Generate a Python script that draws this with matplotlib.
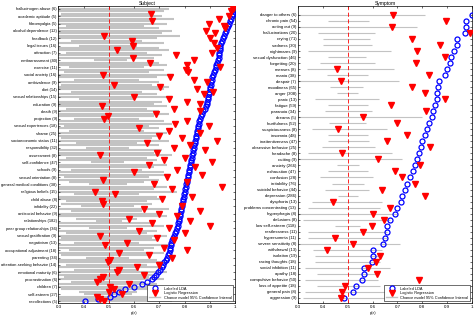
import matplotlib
matplotlib.use('Agg')
import matplotlib.pyplot as plt
from matplotlib.lines import Line2D
import numpy as np

plt.rcParams['font.family'] = ['Liberation Sans', 'DejaVu Sans']

# ---- left panel: subjects (one label every third row) ----
subject_labels = [
    'hallucinogen abuse (6)', 'academic aptitude (5)', 'fibromyalgia (5)',
    'alcohol dependence (12)', 'feedback (12)', 'legal issues (16)',
    'attraction (7)', 'embarrassment (40)', 'exercise (11)',
    'social anxiety (16)', 'ambivalence (9)', 'diet (14)',
    'sexual relationships (15)', 'education (9)', 'death (9)',
    'projection (9)', 'sexual experiences (18)', 'shame (25)',
    'socioeconomic status (11)', 'responsibility (32)', 'assessment (8)',
    'self-confidence (47)', 'schools (9)', 'sexual orientation (8)',
    'general medical conditions (38)', 'religious beliefs (15)',
    'child abuse (8)', 'infidelity (22)', 'antisocial behavior (9)',
    'relationships (182)', 'peer group relationships (36)',
    'sexual gratification (9)', 'negativism (13)',
    'occupational adjustment (18)', 'parenting (34)',
    'attention-seeking behavior (14)', 'emotional maturity (6)',
    'procrastination (6)', 'children (7)', 'self-esteem (27)',
    'recollections (5)',
]

subject_lda = [
    1.000, 0.997, 0.994, 0.990, 0.986, 0.981, 0.977, 0.974, 0.969, 0.964,
    0.960, 0.957, 0.951, 0.948, 0.944, 0.941, 0.940, 0.939, 0.938, 0.936,
    0.935, 0.933, 0.929, 0.926, 0.924, 0.919, 0.917, 0.913, 0.910, 0.908,
    0.905, 0.903, 0.902, 0.899, 0.897, 0.895, 0.894, 0.891, 0.889, 0.887,
    0.884, 0.880, 0.873, 0.868, 0.864, 0.860, 0.858, 0.857, 0.854, 0.852,
    0.850, 0.849, 0.846, 0.844, 0.843, 0.840, 0.838, 0.837, 0.834, 0.832,
    0.830, 0.829, 0.826, 0.824, 0.823, 0.820, 0.818, 0.817, 0.814, 0.812,
    0.810, 0.809, 0.806, 0.804, 0.803, 0.800, 0.798, 0.797, 0.794, 0.792,
    0.790, 0.789, 0.786, 0.784, 0.782, 0.780, 0.779, 0.776, 0.774, 0.772,
    0.770, 0.767, 0.762, 0.758, 0.755, 0.750, 0.748, 0.747, 0.744, 0.742,
    0.740, 0.736, 0.730, 0.726, 0.720, 0.715, 0.710, 0.702, 0.696, 0.688,
    0.680, 0.669, 0.652, 0.631, 0.600, 0.562, 0.541, 0.521, 0.505, 0.458,
    0.405,
]

subject_lr = [
    0.993, 0.985, 0.667, 0.975, 0.936, 0.671, 0.896, 0.955, 0.962, 0.883,
    0.922, 0.481, 0.902, 0.591, 0.918, 0.595, 0.929, 0.531, 0.909, 0.767,
    0.595, 0.836, 0.664, 0.810, 0.942, 0.807, 0.812, 0.478, 0.743, 0.836,
    0.889, 0.521, 0.701, 0.849, 0.913, 0.876, 0.598, 0.737, 0.810, 0.863,
    0.472, 0.757, 0.863, 0.688, 0.498, 0.481, 0.810, 0.763, 0.896, 0.620,
    0.740, 0.860, 0.700, 0.790, 0.930, 0.650, 0.820, 0.760, 0.880, 0.690,
    0.465, 0.800, 0.720, 0.910, 0.660, 0.840, 0.770, 0.600, 0.870, 0.730,
    0.478, 0.810, 0.680, 0.950, 0.750, 0.445, 0.525, 0.830, 0.710, 0.472,
    0.478, 0.790, 0.640, 0.860, 0.700, 0.770, 0.580, 0.820, 0.670, 0.900,
    0.740, 0.620, 0.800, 0.465, 0.690, 0.760, 0.570, 0.485, 0.720, 0.810,
    0.538, 0.660, 0.750, 0.505, 0.498, 0.700, 0.610, 0.538, 0.531, 0.640,
    0.476, 0.465, 0.454, 0.580, 0.505, 0.520, 0.500, 0.550, 0.454, 0.465,
    0.480,
]

subject_ci_low = [
    0.22, 0.24, 0.31, 0.26, 0.23, 0.30, 0.25, 0.33, 0.28, 0.24,
    0.27, 0.21, 0.29, 0.35, 0.26, 0.38, 0.28, 0.25, 0.33, 0.27,
    0.30, 0.44, 0.29, 0.26, 0.34, 0.27, 0.32, 0.23, 0.29, 0.36,
    0.28, 0.31, 0.25, 0.27, 0.35, 0.29, 0.24, 0.38, 0.27, 0.30,
    0.26, 0.33, 0.28, 0.25, 0.30, 0.36, 0.27, 0.24, 0.32, 0.28,
    0.34, 0.26, 0.29, 0.31, 0.25, 0.37, 0.28, 0.41, 0.27, 0.30,
    0.24, 0.33, 0.29, 0.43, 0.26, 0.30, 0.35, 0.27, 0.25, 0.32,
    0.28, 0.34, 0.42, 0.26, 0.30, 0.23, 0.36, 0.29, 0.27, 0.33,
    0.31, 0.39, 0.25, 0.35, 0.28, 0.26, 0.37, 0.45, 0.30, 0.27,
    0.42, 0.29, 0.33, 0.26, 0.31, 0.28, 0.36, 0.24, 0.30, 0.34,
    0.27, 0.31, 0.41, 0.29, 0.25, 0.33, 0.28, 0.36, 0.26, 0.30,
    0.32, 0.27, 0.35, 0.29, 0.24, 0.31, 0.38, 0.40, 0.26, 0.30,
    0.24,
]

subject_ci_high = [
    0.74, 0.72, 0.66, 0.71, 0.76, 0.68, 0.73, 0.64, 0.70, 0.75,
    0.71, 0.78, 0.69, 0.63, 0.72, 0.61, 0.70, 0.74, 0.65, 0.71,
    0.68, 0.57, 0.70, 0.73, 0.64, 0.72, 0.66, 0.76, 0.69, 0.62,
    0.70, 0.67, 0.74, 0.72, 0.63, 0.69, 0.75, 0.60, 0.71, 0.68,
    0.73, 0.65, 0.70, 0.74, 0.68, 0.62, 0.72, 0.75, 0.66, 0.70,
    0.64, 0.73, 0.69, 0.67, 0.74, 0.61, 0.70, 0.58, 0.71, 0.68,
    0.75, 0.65, 0.69, 0.56, 0.73, 0.68, 0.63, 0.72, 0.74, 0.66,
    0.70, 0.64, 0.57, 0.73, 0.68, 0.77, 0.62, 0.69, 0.72, 0.65,
    0.67, 0.60, 0.74, 0.63, 0.70, 0.73, 0.61, 0.55, 0.68, 0.72,
    0.57, 0.69, 0.65, 0.73, 0.67, 0.70, 0.62, 0.75, 0.68, 0.64,
    0.72, 0.67, 0.58, 0.69, 0.74, 0.65, 0.70, 0.62, 0.73, 0.68,
    0.66, 0.72, 0.63, 0.69, 0.75, 0.67, 0.61, 0.59, 0.73, 0.68,
    0.75,
]

# ---- right panel: symptoms (one label per row) ----
symptom_labels = [
    'danger to others (6)', 'chronic pain (54)', 'acting out (9)',
    'hallucinations (20)', 'crying (71)', 'sadness (30)', 'nightmares (9)',
    'sexual dysfunction (46)', 'forgetting (20)', 'menses (8)',
    'mania (38)', 'despair (7)', 'moodiness (65)', 'anger (308)',
    'panic (13)', 'fatigue (59)', 'paranoia (34)', 'dreams (5)',
    'hurtfulness (52)', 'suspiciousness (8)', 'insomnia (48)',
    'inattentiveness (47)', 'obsessive behavior (25)', 'headache (8)',
    'cutting (9)', 'anxiety (266)', 'exhaustion (47)', 'confusion (28)',
    'irritability (76)', 'suicidal behavior (44)', 'depression (286)',
    'dysphoria (13)', 'problems concentrating (13)', 'hyperphagia (8)',
    'delusions (8)', 'low self-esteem (118)', 'restlessness (11)',
    'hypersomnia (11)', 'severe sensitivity (8)', 'withdrawal (13)',
    'isolation (19)', 'racing thoughts (18)', 'social inhibition (11)',
    'apathy (18)', 'compulsive behavior (50)', 'loss of appetite (18)',
    'general pain (8)', 'aggression (9)',
]

symptom_lda = [
    1.000, 0.976, 0.976, 0.972, 0.940, 0.940, 0.928, 0.915, 0.911, 0.899,
    0.891, 0.867, 0.863, 0.859, 0.859, 0.851, 0.843, 0.839, 0.827, 0.820,
    0.812, 0.800, 0.795, 0.787, 0.780, 0.770, 0.762, 0.750, 0.740, 0.730,
    0.720, 0.713, 0.697, 0.692, 0.670, 0.659, 0.659, 0.650, 0.641, 0.603,
    0.600, 0.598, 0.566, 0.566, 0.556, 0.533, 0.523, 0.485,
]

symptom_lr = [
    0.683, 0.895, 0.677, 0.992, 0.757, 0.871, 0.780, 0.891, 0.773, 0.456,
    0.828, 0.472, 0.757, 0.811, 0.891, 0.673, 0.815, 0.563, 0.700, 0.462,
    0.740, 0.660, 0.830, 0.476, 0.620, 0.790, 0.690, 0.720, 0.770, 0.640,
    0.810, 0.440, 0.670, 0.600, 0.646, 0.596, 0.563, 0.449, 0.523, 0.418,
    0.630, 0.614, 0.583, 0.617, 0.788, 0.489, 0.476, 0.472,
]

symptom_ci_low = [
    0.19, 0.42, 0.22, 0.38, 0.40, 0.40, 0.34, 0.42, 0.39, 0.336,
    0.415, 0.29, 0.43, 0.456, 0.37, 0.42, 0.41, 0.20, 0.425, 0.357,
    0.42, 0.42, 0.395, 0.34, 0.25, 0.455, 0.42, 0.39, 0.436, 0.41,
    0.46, 0.357, 0.34, 0.28, 0.32, 0.45, 0.34, 0.34, 0.31, 0.36,
    0.37, 0.37, 0.33, 0.375, 0.33, 0.375, 0.33, 0.32,
]

symptom_ci_high = [
    0.81, 0.585, 0.78, 0.61, 0.59, 0.597, 0.674, 0.573, 0.61, 0.686,
    0.58, 0.706, 0.56, 0.54, 0.627, 0.58, 0.597, 0.80, 0.575, 0.66,
    0.58, 0.585, 0.61, 0.68, 0.72, 0.545, 0.58, 0.60, 0.565, 0.585,
    0.54, 0.64, 0.63, 0.70, 0.67, 0.55, 0.66, 0.66, 0.71, 0.64,
    0.62, 0.63, 0.67, 0.62, 0.62, 0.63, 0.68, 0.69,
]

x_ticks = [0.3, 0.4, 0.5, 0.6, 0.7, 0.8, 0.9, 1.0]
x_tick_labels = ['0.3', '0.4', '0.5', '0.6', '0.7', '0.8', '0.9', '1']

FS = 3.2


def draw_panel(ax, title, labels, label_every, lda, lr, lo, hi, bar_lw, ylim, label_fs):
    rows = np.arange(len(lda))
    ax.hlines(rows, lo, hi, color='#c3c3c3', lw=bar_lw, zorder=1)
    ax.axvline(0.5, color='red', lw=0.6, ls=(0, (5, 3)), zorder=2)
    ax.plot(lda, rows, ls='none', marker='o', ms=3.6, mfc='none',
            mec='blue', mew=0.9, zorder=3)
    ax.plot(lr, rows, ls='none', marker='v', ms=4.0, color='red',
            mec='red', zorder=4)

    ax.set_xlim(0.3, 1.0)
    ax.set_ylim(*ylim)
    ax.set_xticks(x_ticks)
    ax.set_xticklabels(x_tick_labels)
    ax.set_yticks(rows[::label_every])
    ax.set_yticklabels(labels)
    ax.tick_params(direction='in', length=1.5, width=0.4, labelsize=FS,
                   pad=1.5, top=True, right=True)
    ax.tick_params(axis='y', labelsize=label_fs, pad=1.2)
    for s in ax.spines.values():
        s.set_linewidth(0.5)
    ax.set_title(title, fontsize=3.6, pad=0.6)
    ax.set_xlabel('p(ε)', fontsize=2.8, labelpad=0)
    ax.xaxis.set_label_coords(0.43, -0.026)

    handles = [
        Line2D([], [], ls='none', marker='o', ms=3.6, mfc='none', mec='blue', mew=0.9),
        Line2D([], [], ls='none', marker='v', ms=4.0, color='red'),
        Line2D([], [], color='#c3c3c3', lw=1),
    ]
    leg = ax.legend(handles, ['Labeled LDA', 'Logistic Regression',
                              'Chance model 95% Confidence Interval'],
                    loc='lower right', fontsize=2.8, frameon=True, fancybox=False,
                    borderpad=0.4, labelspacing=0.15, handlelength=3,
                    borderaxespad=0.5, framealpha=1)
    leg.get_frame().set_edgecolor('black')
    leg.get_frame().set_linewidth(0.4)


fig = plt.figure(figsize=(4.74, 3.15), dpi=100)
ax1 = fig.add_axes([0.1234, 0.037, 0.3724, 0.943])
ax2 = fig.add_axes([0.6287, 0.037, 0.367, 0.943])

draw_panel(ax1, 'Subject', subject_labels, 3, subject_lda, subject_lr,
           subject_ci_low, subject_ci_high, 1.5, (120.8, -1.1), 2.9)
draw_panel(ax2, 'Symptom', symptom_labels, 1, symptom_lda, symptom_lr,
           symptom_ci_low, symptom_ci_high, 0.8, (47.9, -1.43), 3.1)

fig.savefig('out.png', dpi=100)
